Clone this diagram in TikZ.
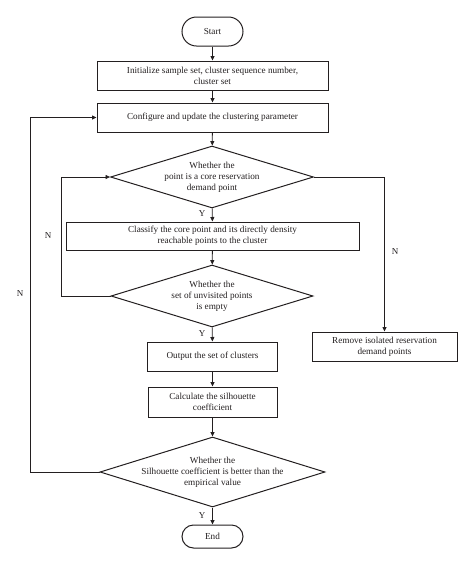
\documentclass[tikz,border=0pt]{standalone}
\usepackage{fontspec}
\setmainfont{Liberation Serif}
\usetikzlibrary{shapes.geometric,arrows.meta}
\definecolor{ink}{HTML}{231F20}
\begin{document}
\begin{tikzpicture}[x=1pt,y=-1pt,
  every node/.style={font=\fontsize{9.2}{11}\selectfont, text=ink, align=center},
  procbox/.style={draw=ink, line width=1pt, rectangle, inner sep=0pt},
  termbox/.style={draw=ink, line width=1pt, rectangle, inner sep=0pt},
  decbox/.style={draw=ink, line width=1pt, diamond, inner sep=0pt},
  conn/.style={draw=ink, line width=0.8pt, -{Triangle[length=4.5pt,width=4pt]}},
  lbl/.style={font=\fontsize{9}{10}\selectfont}
]
\useasboundingbox (0,0) rectangle (474,566);
\node[termbox, rounded corners=14.5pt, minimum width=61pt, minimum height=29pt] (start) at (212.5,31.5) {Start};
\node[procbox, minimum width=231pt, minimum height=29pt] (b1) at (212.5,75.5) {Initialize sample set, cluster sequence number,\\cluster set};
\node[procbox, minimum width=231pt, minimum height=29pt] (b2) at (212.5,117.5) {Configure and update the clustering parameter};
\node[decbox, minimum width=203pt, minimum height=62pt] (d1) at (212,177) {};
\node (t1) at (212,177) {Whether the\\point is a core reservation\\demand point};
\node[procbox, minimum width=293pt, minimum height=28pt] (b3) at (212.5,236) {Classify the core point and its directly density\\reachable points to the cluster};
\node[decbox, minimum width=202pt, minimum height=62pt] (d2) at (212,296) {};
\node (t2) at (212,296) {Whether the\\set of unvisited points\\is empty};
\node[procbox, minimum width=130pt, minimum height=29pt] (b4) at (212.5,356.5) {Output the set of clusters};
\node[procbox, minimum width=129pt, minimum height=30pt] (b5) at (212.5,402) {Calculate the silhouette\\coefficient};
\node[decbox, minimum width=225pt, minimum height=70pt] (d3) at (212.5,472) {};
\node (t3) at (212.5,472) {Whether the\\Silhouette coefficient is better than the\\empirical value};
\node[termbox, rounded corners=11.5pt, minimum width=61pt, minimum height=23pt] (end) at (212.5,536.5) {End};
\node[procbox, minimum width=145pt, minimum height=29pt] (rm) at (384.5,346.5) {Remove isolated reservation\\demand points};

\draw[conn] (start) -- (b1);
\draw[conn] (b1) -- (b2);
\draw[conn] (b2) -- (d1);
\draw[conn] (d1) -- (b3);
\draw[conn] (b3) -- (d2);
\draw[conn] (d2) -- (b4);
\draw[conn] (b4) -- (b5);
\draw[conn] (b5) -- (d3);
\draw[conn] (d3) -- (end);
\draw[conn] (d1.east) -| (rm.north);
\draw[conn] (d2.west) -- ++(-49,0) |- (d1.west);
\draw[conn] (d3.west) -- ++(-69,0) |- (b2.west);

\node[lbl] (y1) at (202,214) {Y};
\node[lbl] (y2) at (202,334) {Y};
\node[lbl] (y3) at (202,516) {Y};
\node[lbl] (n1) at (48,236) {N};
\node[lbl] (n2) at (395,252) {N};
\node[lbl] (n3) at (20,294) {N};
\end{tikzpicture}
\end{document}
